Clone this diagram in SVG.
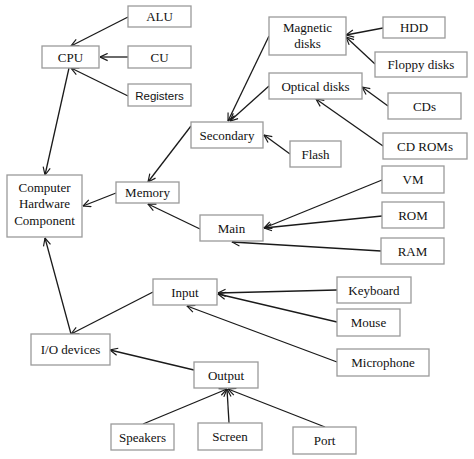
<svg xmlns="http://www.w3.org/2000/svg" width="474" height="459" viewBox="0 0 474 459">
<style>
.box{fill:#fff;stroke:#9a9a9a;stroke-width:1.3}
text{font-family:"Liberation Serif","Times New Roman",serif;font-size:13px;fill:#111;text-anchor:middle}
.sans{font-family:"Liberation Sans",Arial,sans-serif;font-size:11.5px}
.c line{stroke:#1a1a1a;stroke-width:1.3;marker-end:url(#a)}
</style>
<defs>
<marker id="a" viewBox="0 0 10 10" refX="9.5" refY="5" markerWidth="9" markerHeight="9" markerUnits="userSpaceOnUse" orient="auto">
<path d="M1,1 L9.5,5 L1,9" fill="none" stroke="#1a1a1a" stroke-width="1.3"/>
</marker>
</defs>
<rect width="474" height="459" fill="#fff"/>
<g class="c">
<line x1="128" y1="17" x2="71" y2="46"/>
<line x1="128" y1="57" x2="100" y2="57"/>
<line x1="128" y1="96" x2="71" y2="68"/>
<line x1="69" y1="68" x2="45" y2="175"/>
<line x1="269" y1="36" x2="228" y2="121"/>
<line x1="269" y1="86" x2="230" y2="121"/>
<line x1="383" y1="28" x2="346" y2="35"/>
<line x1="375" y1="64" x2="346" y2="37"/>
<line x1="388" y1="106" x2="362" y2="87"/>
<line x1="383" y1="146" x2="316" y2="99"/>
<line x1="290" y1="154" x2="264" y2="135"/>
<line x1="191" y1="126" x2="148" y2="182"/>
<line x1="116" y1="193" x2="83" y2="206"/>
<line x1="200" y1="229" x2="148" y2="204"/>
<line x1="382" y1="180" x2="264" y2="228"/>
<line x1="382" y1="216" x2="264" y2="228"/>
<line x1="381" y1="251" x2="232" y2="242"/>
<line x1="337" y1="290" x2="218" y2="293"/>
<line x1="337" y1="322" x2="218" y2="294"/>
<line x1="337" y1="362" x2="187" y2="306"/>
<line x1="153" y1="292" x2="71" y2="334"/>
<line x1="71" y1="334" x2="45" y2="238"/>
<line x1="194" y1="370" x2="110" y2="350"/>
<line x1="143" y1="424" x2="227" y2="389"/>
<line x1="229" y1="423" x2="227" y2="389"/>
<line x1="325" y1="427" x2="228" y2="389"/>
</g>
<g id="alu"><rect class="box" x="128" y="6" width="63" height="21"/><text x="159.5" y="21">ALU</text></g>
<g id="cpu"><rect class="box" x="42" y="46" width="57" height="22"/><text x="70.5" y="61.5">CPU</text></g>
<g id="cu"><rect class="box" x="128" y="46" width="63" height="22"/><text x="159.5" y="61.5">CU</text></g>
<g id="registers"><rect class="box" x="128" y="84" width="63" height="22"/><text class="sans" x="159.5" y="99.5">Registers</text></g>
<g id="magnetic"><rect class="box" x="269" y="17" width="77" height="38"/><text x="307.5" y="32">Magnetic</text><text x="307.5" y="48">disks</text></g>
<g id="hdd"><rect class="box" x="383" y="17" width="62" height="21"/><text x="414" y="32">HDD</text></g>
<g id="floppy"><rect class="box" x="375" y="52" width="92" height="25"/><text x="421" y="69">Floppy disks</text></g>
<g id="optical"><rect class="box" x="269" y="73" width="93" height="26"/><text x="315.5" y="90.5">Optical disks</text></g>
<g id="cds"><rect class="box" x="388" y="93" width="73" height="26"/><text x="424.5" y="110.5">CDs</text></g>
<g id="cdroms"><rect class="box" x="383" y="133" width="84" height="26"/><text x="425" y="150.5">CD ROMs</text></g>
<g id="secondary"><rect class="box" x="191" y="122" width="72" height="26"/><text x="227" y="139.5">Secondary</text></g>
<g id="flash"><rect class="box" x="290" y="141" width="51" height="26"/><text x="315.5" y="158.5">Flash</text></g>
<g id="chc"><rect class="box" x="7" y="175" width="75" height="62"/><text x="44.5" y="192">Computer</text><text x="44.5" y="208">Hardware</text><text x="44.5" y="224.5">Component</text></g>
<g id="memory"><rect class="box" x="116" y="182" width="63" height="21"/><text x="147.5" y="197">Memory</text></g>
<g id="main"><rect class="box" x="200" y="215" width="63" height="26"/><text x="231.5" y="232.5">Main</text></g>
<g id="vm"><rect class="box" x="382" y="166" width="62" height="27"/><text x="413" y="184">VM</text></g>
<g id="rom"><rect class="box" x="382" y="202" width="62" height="26"/><text x="413" y="219.5">ROM</text></g>
<g id="ram"><rect class="box" x="381" y="238" width="63" height="26"/><text x="412.5" y="255.5">RAM</text></g>
<g id="keyboard"><rect class="box" x="337" y="277" width="74" height="26"/><text x="374" y="294.5">Keyboard</text></g>
<g id="input"><rect class="box" x="153" y="279" width="64" height="26"/><text x="185" y="296.5">Input</text></g>
<g id="mouse"><rect class="box" x="337" y="309" width="63" height="27"/><text x="368.5" y="327">Mouse</text></g>
<g id="microphone"><rect class="box" x="337" y="349" width="92" height="27"/><text x="383" y="367">Microphone</text></g>
<g id="io"><rect class="box" x="31" y="334" width="79" height="31"/><text x="70.5" y="354">I/O devices</text></g>
<g id="output"><rect class="box" x="194" y="362" width="64" height="26"/><text x="226" y="379.5">Output</text></g>
<g id="speakers"><rect class="box" x="111" y="424" width="63" height="26"/><text x="142.5" y="441.5">Speakers</text></g>
<g id="screen"><rect class="box" x="198" y="423" width="64" height="27"/><text x="230" y="441">Screen</text></g>
<g id="port"><rect class="box" x="293" y="427" width="63" height="27"/><text x="324.5" y="445">Port</text></g>
</svg>
